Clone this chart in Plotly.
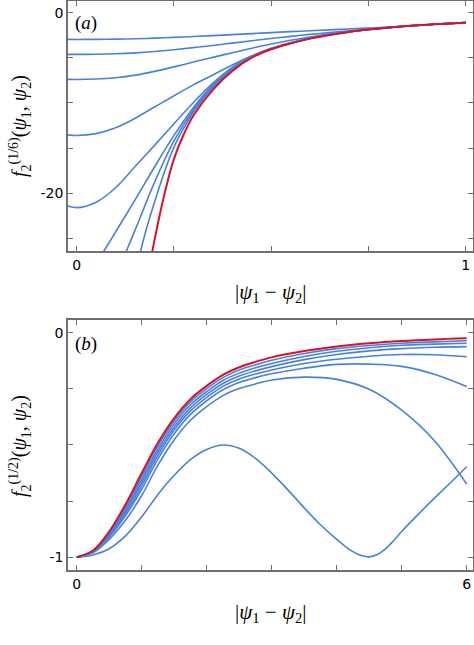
import plotly.graph_objects as go

# ---- panel (a): f2^(1/6) vs |psi1 - psi2| ----
xa = [-0.05, 0, 0.05, 0.1, 0.15, 0.2, 0.25, 0.3, 0.35, 0.4, 0.45, 0.5,
      0.55, 0.6, 0.65, 0.7, 0.75, 0.8, 0.85, 0.9, 0.95, 1.0]
a_c1 = [-2.955, -2.96, -2.955, -2.93, -2.89, -2.82, -2.73, -2.64, -2.54, -2.43, -2.32, -2.2,
        -2.1, -2.0, -1.9, -1.8, -1.7, -1.59, -1.46, -1.325, -1.205, -1.1]
a_c2 = [-4.6, -4.62, -4.6, -4.55, -4.45, -4.3, -4.1, -3.87, -3.63, -3.37, -3.1, -2.85,
        -2.62, -2.4, -2.2, -2.0, -1.82, -1.635, -1.47, -1.325, -1.205, -1.1]
a_c3 = [-7.35, -7.4, -7.35, -7.2, -6.92, -6.5, -6.0, -5.47, -4.95, -4.43, -3.93, -3.46,
        -3.05, -2.69, -2.37, -2.09, -1.855, -1.645, -1.472, -1.326, -1.206, -1.1]
a_c4 = [-13.4, -13.6, -13.4, -12.75, -11.7, -10.45, -9.2, -8.0, -6.9, -5.8, -4.78, -3.95,
        -3.33, -2.8, -2.42, -2.1, -1.857, -1.647, -1.474, -1.327, -1.207, -1.1]
a_c5 = [-21.0, -21.6, -21.0, -19.4, -17.05, -14.7, -12.3, -9.95, -7.8, -6.05, -4.85, -3.97,
        -3.35, -2.83, -2.43, -2.11, -1.86, -1.65, -1.475, -1.328, -1.208, -1.1]

xa_c6 = [0.05, 0.1, 0.15, 0.2, 0.25, 0.3, 0.35, 0.4, 0.45, 0.5,
         0.55, 0.6, 0.65, 0.7, 0.75, 0.8, 0.85, 0.9, 0.95, 1.0]
a_c6 = [-27.8, -24.3, -20.75, -17.1, -13.6, -10.5, -8.0, -6.15, -4.88, -3.99,
        -3.36, -2.84, -2.44, -2.115, -1.862, -1.652, -1.476, -1.329, -1.208, -1.1]

xa_c7 = [0.1, 0.15, 0.2, 0.25, 0.3, 0.35, 0.4, 0.45, 0.5,
         0.55, 0.6, 0.65, 0.7, 0.75, 0.8, 0.85, 0.9, 0.95, 1.0]
a_c7 = [-29.3, -24.1, -18.8, -14.2, -10.75, -8.15, -6.25, -4.91, -4.0,
        -3.37, -2.85, -2.445, -2.12, -1.865, -1.655, -1.477, -1.33, -1.209, -1.1]

xa_c8 = [0.15, 0.175, 0.2, 0.225, 0.25, 0.275, 0.3, 0.35, 0.4, 0.45, 0.5,
         0.55, 0.6, 0.65, 0.7, 0.75, 0.8, 0.85, 0.9, 0.95, 1.0]
a_c8 = [-29.0, -24.6, -21.0, -17.7, -14.9, -12.8, -11.0, -8.3, -6.35, -4.94, -4.02,
        -3.38, -2.86, -2.45, -2.125, -1.867, -1.657, -1.478, -1.33, -1.209, -1.1]

xa_red = [0.19, 0.2, 0.225, 0.25, 0.275, 0.3, 0.35, 0.4, 0.45, 0.5,
          0.55, 0.6, 0.65, 0.7, 0.75, 0.8, 0.85, 0.9, 0.95, 1.0]
a_red = [-27.5, -25.2, -20.2, -16.2, -13.5, -11.4, -8.55, -6.45, -4.98, -4.05,
         -3.4, -2.87, -2.46, -2.13, -1.87, -1.66, -1.48, -1.33, -1.21, -1.1]

# ---- panel (b): f2^(1/2) vs |psi1 - psi2| ----
xb = [0, 0.25, 0.5, 0.75, 1, 1.25, 1.5, 1.75, 2, 2.25, 2.5, 2.75, 3, 3.5, 4, 4.5, 5, 5.5, 6]
b_red = [-1, -0.97, -0.885, -0.765, -0.625, -0.49, -0.38, -0.296, -0.237, -0.188, -0.154, -0.13, -0.11,
         -0.082, -0.061, -0.047, -0.037, -0.03, -0.025]
b_c1 = [-1, -0.971, -0.89, -0.774, -0.638, -0.503, -0.393, -0.308, -0.249, -0.2, -0.166, -0.143, -0.123,
        -0.093, -0.071, -0.057, -0.047, -0.041, -0.036]
b_c2 = [-1, -0.973, -0.894, -0.784, -0.652, -0.517, -0.406, -0.321, -0.262, -0.213, -0.18, -0.156, -0.137,
        -0.106, -0.083, -0.067, -0.056, -0.051, -0.047]
b_c3 = [-1, -0.974, -0.899, -0.794, -0.666, -0.531, -0.42, -0.335, -0.275, -0.226, -0.193, -0.17, -0.151,
        -0.12, -0.097, -0.081, -0.071, -0.065, -0.062]
b_c4 = [-1, -0.976, -0.904, -0.804, -0.68, -0.545, -0.433, -0.348, -0.288, -0.239, -0.206, -0.184, -0.166,
        -0.137, -0.118, -0.105, -0.097, -0.098, -0.107]
b_c5 = [-1, -0.977, -0.91, -0.815, -0.697, -0.562, -0.45, -0.364, -0.303, -0.254, -0.222, -0.2, -0.183,
        -0.158, -0.141, -0.14, -0.15, -0.185, -0.24]
b_c6 = [-1, -0.98, -0.92, -0.835, -0.725, -0.59, -0.477, -0.39, -0.329, -0.28, -0.249, -0.228, -0.211,
        -0.198, -0.208, -0.252, -0.345, -0.48, -0.674]

xb_s = [0, 0.25, 0.5, 0.75, 1, 1.25, 1.5, 1.75, 2, 2.25, 2.5, 2.75, 3,
        3.25, 3.5, 3.75, 4, 4.125, 4.25, 4.375, 4.5, 4.625, 4.75, 4.875, 5, 5.25, 5.5, 5.75, 6]
b_s = [-1.0, -0.99, -0.962, -0.905, -0.82, -0.72, -0.635, -0.565, -0.52, -0.5, -0.515, -0.56, -0.625,
       -0.7, -0.78, -0.855, -0.92, -0.95, -0.975, -0.992, -0.998, -0.988, -0.963, -0.926, -0.885,
       -0.81, -0.738, -0.668, -0.597]

BLUE = '#4a80dc'
RED = '#dc1224'
W, H = 474, 645

fig = go.Figure()

def add_line(x, y, color, width, xa_name, ya_name):
    fig.add_trace(go.Scatter(x=x, y=y, mode='lines', line=dict(color=color, width=width, shape='spline'),
                             xaxis=xa_name, yaxis=ya_name, showlegend=False, hoverinfo='skip'))

for y in [a_c1, a_c2, a_c3, a_c4, a_c5]:
    add_line(xa, y, BLUE, 1.6, 'x', 'y')
add_line(xa_c6, a_c6, BLUE, 1.6, 'x', 'y')
add_line(xa_c7, a_c7, BLUE, 1.6, 'x', 'y')
add_line(xa_c8, a_c8, BLUE, 1.6, 'x', 'y')
add_line(xa_red, a_red, RED, 2.0, 'x', 'y')

for y in [b_c1, b_c2, b_c3, b_c4, b_c5, b_c6]:
    add_line(xb, y, BLUE, 1.6, 'x2', 'y2')
add_line(xb_s, b_s, BLUE, 1.6, 'x2', 'y2')
add_line(xb, b_red, RED, 2.0, 'x2', 'y2')

GREY = '#707070'
axis_style = dict(showline=True, linecolor=GREY, linewidth=1.5, mirror='ticks',
                  ticks='inside', ticklen=5, tickwidth=1, tickcolor=GREY,
                  showgrid=False, zeroline=False,
                  tickfont=dict(family='DejaVu Sans', size=14, color='black'))

def minor(step):
    return dict(ticks='inside', ticklen=5, tickwidth=1, tickcolor=GREY, dtick=step, showgrid=False)

dom_x = [68 / W, 473 / W]
fig.update_layout(
    width=W, height=H,
    margin=dict(l=0, r=0, t=0, b=0),
    paper_bgcolor='white', plot_bgcolor='white',
    xaxis=dict(domain=dom_x, anchor='y', range=[-0.0224, 1.0188],
               tickvals=[0, 1], ticktext=['0', '1'], minor=minor(0.25), **axis_style),
    yaxis=dict(domain=[1 - 251 / H, 1 - 1 / H], anchor='x', range=[-26.41, 1.3],
               tickvals=[0, -20], ticktext=['0', '-20'], minor=minor(5), **axis_style),
    xaxis2=dict(domain=dom_x, anchor='y2', range=[-0.134, 6.097],
                tickvals=[0, 6], ticktext=['0', '6'], minor=minor(1), **axis_style),
    yaxis2=dict(domain=[1 - 570 / H, 1 - 320 / H], anchor='x2', range=[-1.0566, 0.0565],
                tickvals=[0, -1], ticktext=['0', '-1'], minor=minor(0.25), **axis_style),
)

serif = dict(family='Liberation Serif', size=21, color='black')
xlabel = '|<i>ψ</i><sub>1</sub> − <i>ψ</i><sub>2</sub>|'

def note(text, px, py, angle=0, font=serif):
    fig.add_annotation(text=text, x=px / W, y=1 - py / H, xref='paper', yref='paper',
                       showarrow=False, textangle=angle, font=font,
                       xanchor='center', yanchor='middle')

note(xlabel, 271, 293)
note(xlabel, 271, 613)
note('<i>f</i><sub>2</sub><sup>(1/6)</sup>(<i>ψ</i><sub>1</sub>, <i>ψ</i><sub>2</sub>)', 20, 126, angle=-90,
     font=dict(family='Liberation Serif', size=20, color='black'))
note('<i>f</i><sub>2</sub><sup>(1/2)</sup>(<i>ψ</i><sub>1</sub>, <i>ψ</i><sub>2</sub>)', 20, 446, angle=-90,
     font=dict(family='Liberation Serif', size=20, color='black'))
note('(<i>a</i>)', 86, 23, font=dict(family='Liberation Serif', size=19, color='black'))
note('(<i>b</i>)', 86, 344, font=dict(family='Liberation Serif', size=19, color='black'))

# page body has a default margin; remove it so the figure sits at the window origin
fig.write_html("out.html", config={'displayModeBar': False},
               post_script="document.body.style.margin='0';document.body.style.overflow='hidden';")
